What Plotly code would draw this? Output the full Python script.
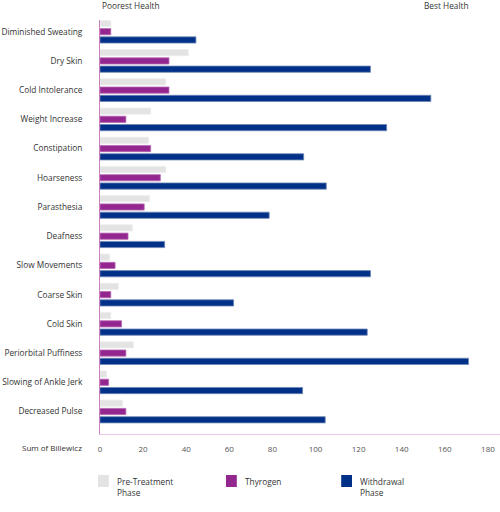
import plotly.graph_objects as go

symptoms = ['Diminished Sweating', 'Dry Skin', 'Cold Intolerance', 'Weight Increase', 'Constipation',
            'Hoarseness', 'Parasthesia', 'Deafness', 'Slow Movements', 'Coarse Skin', 'Cold Skin',
            'Periorbital Puffiness', 'Slowing of Ankle Jerk', 'Decreased Pulse']

pre_treatment = [5, 41, 30.5, 23.5, 22.5, 30.5, 23, 15, 4.5, 8.5, 5, 15.5, 3, 10.5]
thyrogen = [5, 32, 32, 12, 23.5, 28, 20.5, 13, 7, 5, 10, 12, 4, 12]
withdrawal = [44.5, 125.5, 153.5, 133, 94.5, 105, 78.5, 30, 125.5, 62, 124, 171, 94, 104.5]

series_names = ['Pre-Treatment<br>Phase', 'Thyrogen', 'Withdrawal<br>Phase']
series_colors = ['#e3e3e3', '#93278f', '#003087']
edge_colors = ['#ededed', '#b868b2', '#6f86b5']
x_ticks = [0, 20, 40, 60, 80, 100, 120, 140, 160, 180]

text_color = '#333333'
font_family = 'Open Sans, sans-serif'

fig = go.Figure()
for name, vals, col, edge in zip(series_names, [pre_treatment, thyrogen, withdrawal], series_colors, edge_colors):
    fig.add_trace(go.Bar(
        x=vals, y=symptoms, orientation='h', name=name.replace('<br>', ' '),
        marker=dict(color=col, line=dict(color=edge, width=0.8)),
        hovertemplate='%{y}: %{x}<extra></extra>',
    ))

fig.update_layout(
    template='plotly_white',
    width=500, height=512,
    margin=dict(l=100, r=0, t=20, b=78),
    barmode='group', bargap=0.15, bargroupgap=0.25,
    showlegend=False,
    font=dict(family=font_family, size=8.3, color=text_color),
    plot_bgcolor='white', paper_bgcolor='white',
    xaxis=dict(range=[0, 185.6], tickvals=x_ticks, showgrid=False, zeroline=False, automargin=False,
               showline=True, linecolor='#ecc6e6', linewidth=1,
               ticks='outside', ticklen=7, tickcolor='rgba(0,0,0,0)',
               tickfont=dict(size=8, color='#555555')),
    yaxis=dict(categoryorder='array', categoryarray=symptoms, range=[13.77, -0.4], automargin=False,
               showgrid=False, zeroline=False, showline=True, linecolor='#c97fc0', linewidth=1,
               ticks='', ticklabelstandoff=15, tickfont=dict(size=8.3, color=text_color)),
)

# header labels and x-axis caption
fig.add_annotation(text='Poorest Health', xref='paper', yref='paper', x=0, y=1.036,
                   xanchor='left', yanchor='middle', showarrow=False, font=dict(size=8.3, color=text_color))
fig.add_annotation(text='Best Health', xref='paper', yref='paper', x=0.805, y=1.036,
                   xanchor='left', yanchor='middle', showarrow=False, font=dict(size=8.3, color=text_color))
fig.add_annotation(text='Sum of Billewicz', xref='paper', yref='paper', x=-0.04, y=-0.032,
                   xanchor='right', yanchor='middle', showarrow=False, font=dict(size=8, color=text_color))

# legend drawn by hand at the bottom
legend_x = [-0.005, 0.315, 0.603]
for lx, name, col in zip(legend_x, series_names, series_colors):
    fig.add_shape(type='rect', xref='paper', yref='paper', x0=lx, x1=lx + 0.027, y0=-0.128, y1=-0.099,
                  fillcolor=col, line=dict(color=col, width=0))
    fig.add_annotation(text=name, xref='paper', yref='paper', x=lx + 0.042, y=-0.097,
                       xanchor='left', yanchor='top', align='left', showarrow=False,
                       font=dict(size=8.3, color=text_color))

fig.write_html('out.html', config={'displayModeBar': False},
               post_script="document.body.style.margin='0';")
